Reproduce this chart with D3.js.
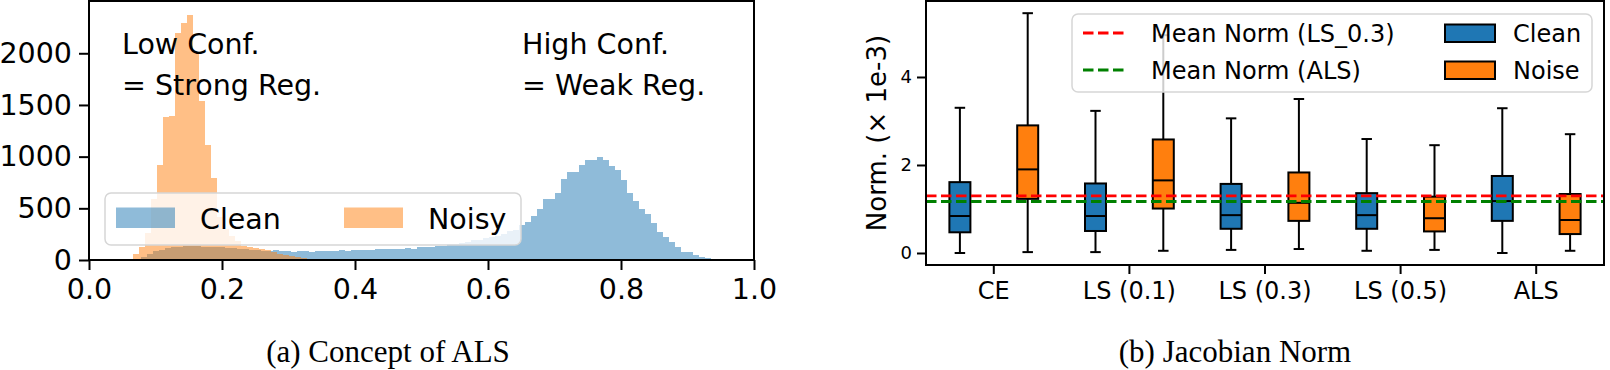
<!DOCTYPE html>
<html>
<head>
<meta charset="utf-8">
<script src="https://cdn.jsdelivr.net/npm/d3@7"></script>
<style>
  body { margin: 0; background: #fff; }
  text { font-family: "DejaVu Sans", sans-serif; fill: #000; }
</style>
</head>
<body>
<svg id="fig" width="1610" height="370"></svg>
<script>
// (a) confidence histogram
var binWidth = 0.00902;
var cleanStart = 0.0782;
var noisyStart = 0.0657;
var cleanCounts = [30, 60, 85, 100, 115, 122, 128, 132, 135, 133,
  130, 128, 125, 122, 118, 115, 110, 105, 100, 96,
  90, 88, 92, 85, 90, 82, 88, 85, 80, 86,
  84, 90, 88, 92, 90, 96, 94, 92, 100, 105,
  102, 108, 104, 110, 112, 108, 125, 130, 128, 135,
  140, 150, 155, 160, 175, 190, 195, 210, 225, 232,
  250, 280, 295, 340, 372, 423, 497, 593, 595, 647,
  779, 849, 852, 923, 968, 971, 997, 971, 913, 872,
  776, 651, 570, 497, 449, 359, 272, 224, 170, 128,
  80, 74, 48, 32, 16, 8, 3];
var noisyCounts = [55, 125, 260, 590, 920, 1380, 1390, 2200, 2290, 2370,
  2000, 1540, 1115, 790, 420, 300, 230, 180, 140, 128,
  120, 110, 95, 80, 62, 48, 34, 25, 18, 12,
  9, 7, 5, 4, 3, 2, 2, 1, 1, 1];
var histXTicks = [0, 0.2, 0.4, 0.6, 0.8, 1.0];
var histYTicks = [0, 500, 1000, 1500, 2000];

// (b) jacobian norm boxplots, [min, q1, median, q3, max]
var methods = ["CE", "LS (0.1)", "LS (0.3)", "LS (0.5)", "ALS"];
var groups = ["Clean", "Noise"];
var cleanBoxes = [
  [0.00, 0.47, 0.84, 1.61, 3.30],
  [0.02, 0.50, 0.84, 1.58, 3.23],
  [0.07, 0.55, 0.86, 1.57, 3.06],
  [0.05, 0.55, 0.86, 1.36, 2.59],
  [0.00, 0.73, 1.18, 1.75, 3.29]
];
var noiseBoxes = [
  [0.02, 1.23, 1.90, 2.90, 5.45],
  [0.05, 1.01, 1.65, 2.58, 4.95],
  [0.09, 0.73, 1.14, 1.83, 3.50],
  [0.07, 0.49, 0.79, 1.28, 2.45],
  [0.05, 0.43, 0.75, 1.34, 2.70]
];
var meanLines = [
  { label: "Mean Norm (LS_0.3)", value: 1.30, color: "#ff0000" },
  { label: "Mean Norm (ALS)", value: 1.17, color: "#008000" }
];
var normTicks = [0, 2, 4];

var svg = d3.select("#fig");

// ---------- panel a ----------
var ha = { left: 89, right: 754, top: 1.6, bottom: 260 };
var hx = d3.scaleLinear().domain([0, 1]).range([ha.left, ha.right]);
var hy = d3.scaleLinear().domain([0, 2500]).range([ha.bottom, ha.top]);
var fsA = 28.5;

var gA = svg.append("g");

function histBars(counts, start, color) {
  gA.append("g")
    .selectAll("rect")
    .data(counts)
    .enter().append("rect")
    .attr("x", function (d, i) { return hx(start + i * binWidth); })
    .attr("width", function (d, i) { return hx(start + (i + 1) * binWidth) - hx(start + i * binWidth); })
    .attr("y", function (d) { return hy(d); })
    .attr("height", function (d) { return hy(0) - hy(d); })
    .style("fill", color)
    .style("fill-opacity", 0.5)
    .attr("shape-rendering", "crispEdges");
}
histBars(cleanCounts, cleanStart, "#1f77b4");
histBars(noisyCounts, noisyStart, "#ff7f0e");

gA.append("rect")
  .attr("x", ha.left).attr("y", ha.top - 0.6)
  .attr("width", ha.right - ha.left).attr("height", ha.bottom - ha.top + 0.6)
  .style("fill", "none").style("stroke", "#000").style("stroke-width", 2);

var axA = gA.append("g")
  .attr("transform", "translate(0," + ha.bottom + ")")
  .call(d3.axisBottom(hx).tickValues(histXTicks).tickFormat(d3.format(".1f")).tickSize(10).tickPadding(9));
var ayA = gA.append("g")
  .attr("transform", "translate(" + ha.left + ",0)")
  .call(d3.axisLeft(hy).tickValues(histYTicks).tickFormat(d3.format("d")).tickSize(10).tickPadding(7));
[axA, ayA].forEach(function (a) {
  a.select(".domain").remove();
  a.selectAll("line").style("stroke", "#000").style("stroke-width", 2);
  a.selectAll("text").style("font-size", fsA + "px").style("font-family", "DejaVu Sans");
});

gA.append("text").attr("x", 122).attr("y", 53.5).style("font-size", fsA + "px").text("Low Conf.");
gA.append("text").attr("x", 122).attr("y", 95).style("font-size", fsA + "px").text("= Strong Reg.");
gA.append("text").attr("x", 522).attr("y", 53.5).style("font-size", fsA + "px").text("High Conf.");
gA.append("text").attr("x", 522).attr("y", 95).style("font-size", fsA + "px").text("= Weak Reg.");

// legend a
var legA = gA.append("g");
legA.append("rect")
  .attr("x", 105).attr("y", 193).attr("width", 416).attr("height", 52).attr("rx", 6)
  .style("fill", "#fff").style("fill-opacity", 0.8)
  .style("stroke", "#d6d6d6").style("stroke-width", 1.5);
[["Clean", "#1f77b4", 116, 200], ["Noisy", "#ff7f0e", 344, 428]].forEach(function (e) {
  legA.append("rect").attr("x", e[2]).attr("y", 207.5).attr("width", 59).attr("height", 20.5)
    .style("fill", e[1]).style("fill-opacity", 0.5);
  legA.append("text").attr("x", e[3]).attr("y", 228.5).style("font-size", fsA + "px").text(e[0]);
});

// ---------- panel b ----------
var hb = { left: 926, right: 1604, top: 1, bottom: 265 };
var bx = d3.scaleBand().domain(methods).range([hb.left, hb.right]);
var inner = d3.scaleBand().domain(groups).range([0, bx.bandwidth()]);
var by = d3.scaleLinear().domain([-0.273, 5.727]).range([hb.bottom, hb.top]);
var boxW = 21;
var boxColor = { Clean: "#1f77b4", Noise: "#ff7f0e" };

var gB = svg.append("g");

var boxData = [];
methods.forEach(function (m, i) {
  boxData.push({ method: m, group: "Clean", s: cleanBoxes[i] });
  boxData.push({ method: m, group: "Noise", s: noiseBoxes[i] });
});

var boxes = gB.selectAll("g.box")
  .data(boxData)
  .enter().append("g")
  .attr("class", "box")
  .attr("transform", function (d) {
    return "translate(" + (bx(d.method) + inner(d.group) + inner.bandwidth() / 2) + ",0)";
  });

boxes.each(function (d) {
  var g = d3.select(this);
  var s = d.s;
  g.append("line").attr("x1", 0).attr("x2", 0).attr("y1", by(s[0])).attr("y2", by(s[1]))
    .style("stroke", "#000").style("stroke-width", 2);
  g.append("line").attr("x1", 0).attr("x2", 0).attr("y1", by(s[3])).attr("y2", by(s[4]))
    .style("stroke", "#000").style("stroke-width", 2);
  g.append("line").attr("x1", -boxW / 4).attr("x2", boxW / 4).attr("y1", by(s[0])).attr("y2", by(s[0]))
    .style("stroke", "#000").style("stroke-width", 2);
  g.append("line").attr("x1", -boxW / 4).attr("x2", boxW / 4).attr("y1", by(s[4])).attr("y2", by(s[4]))
    .style("stroke", "#000").style("stroke-width", 2);
  g.append("rect").attr("x", -boxW / 2).attr("width", boxW)
    .attr("y", by(s[3])).attr("height", by(s[1]) - by(s[3]))
    .style("fill", boxColor[d.group]).style("stroke", "#000").style("stroke-width", 2);
  g.append("line").attr("x1", -boxW / 2).attr("x2", boxW / 2).attr("y1", by(s[2])).attr("y2", by(s[2]))
    .style("stroke", "#000").style("stroke-width", 2);
});

meanLines.forEach(function (m) {
  gB.append("line")
    .attr("x1", hb.left).attr("x2", hb.right)
    .attr("y1", by(m.value)).attr("y2", by(m.value))
    .style("stroke", m.color).style("stroke-width", 2.8).style("stroke-dasharray", "10.5,4.5");
});

gB.append("rect")
  .attr("x", hb.left).attr("y", hb.top)
  .attr("width", hb.right - hb.left).attr("height", hb.bottom - hb.top)
  .style("fill", "none").style("stroke", "#000").style("stroke-width", 2);

var axB = gB.append("g")
  .attr("transform", "translate(0," + hb.bottom + ")")
  .call(d3.axisBottom(bx).tickSize(9).tickPadding(7.5));
var ayB = gB.append("g")
  .attr("transform", "translate(" + hb.left + ",0)")
  .call(d3.axisLeft(by).tickValues(normTicks).tickFormat(d3.format("d")).tickSize(9).tickPadding(5));
[axB, ayB].forEach(function (a) {
  a.select(".domain").remove();
  a.selectAll("line").style("stroke", "#000").style("stroke-width", 2);
  a.selectAll("text").style("font-family", "DejaVu Sans");
});
axB.selectAll("text").style("font-size", "24px");
ayB.selectAll("text").style("font-size", "18px");

gB.append("text")
  .attr("transform", "translate(886," + ((hb.top + hb.bottom) / 2) + ") rotate(-90)")
  .attr("text-anchor", "middle")
  .style("font-size", "26px")
  .text("Norm. (\u00d7 1e-3)");

// legend b
var legB = gB.append("g");
legB.append("rect")
  .attr("x", 1072).attr("y", 14).attr("width", 520).attr("height", 78).attr("rx", 6)
  .style("fill", "#fff").style("fill-opacity", 0.8)
  .style("stroke", "#d6d6d6").style("stroke-width", 1.5);
meanLines.forEach(function (m, i) {
  var yy = 33 + i * 37;
  legB.append("line").attr("x1", 1083).attr("x2", 1126).attr("y1", yy).attr("y2", yy)
    .style("stroke", m.color).style("stroke-width", 2.8).style("stroke-dasharray", "10.5,4.5");
  legB.append("text").attr("x", 1151).attr("y", yy + 8.6).style("font-size", "24px").text(m.label);
});
groups.forEach(function (gname, i) {
  var yy = 33 + i * 37;
  legB.append("rect").attr("x", 1445).attr("y", yy - 8.5).attr("width", 50).attr("height", 17.5)
    .style("fill", boxColor[gname]).style("stroke", "#000").style("stroke-width", 2);
  legB.append("text").attr("x", 1513).attr("y", yy + 8.6).style("font-size", "24px").text(gname);
});

// captions
svg.append("text").attr("x", 388).attr("y", 362).attr("text-anchor", "middle")
  .style("font-family", "Liberation Serif").style("font-size", "31px").text("(a) Concept of ALS");
svg.append("text").attr("x", 1235).attr("y", 362).attr("text-anchor", "middle")
  .style("font-family", "Liberation Serif").style("font-size", "31px").text("(b) Jacobian Norm");
</script>
</body>
</html>
